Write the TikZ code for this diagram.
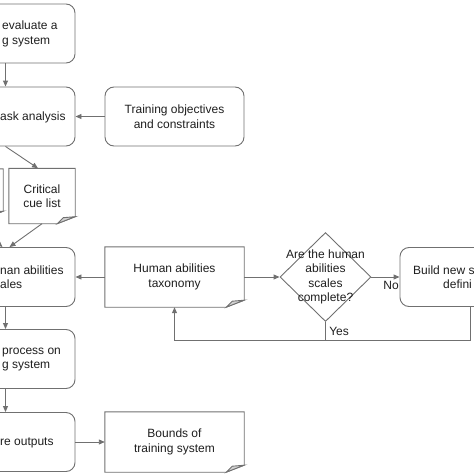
\documentclass[tikz,border=0pt]{standalone}
\usepackage{fontspec}
\setmainfont{Liberation Sans}
\usetikzlibrary{arrows.meta,shapes.geometric}
\definecolor{edgegray}{HTML}{707070}
\definecolor{ink}{HTML}{1E1E1E}
\definecolor{foldgray}{HTML}{D2D2D2}
\newcommand{\docframe}[1]{%
  \draw [edge] (#1.north west) -- (#1.north east) -- ([yshift=7pt]#1.south east)
    -- ([xshift=-18pt]#1.south east) -- (#1.south west) -- cycle;
  \draw [edge, fill=foldgray] ([yshift=7pt]#1.south east) -- ([xshift=-12pt,yshift=6pt]#1.south east)
    -- ([xshift=-18pt]#1.south east) -- cycle;}

\begin{document}
\begin{tikzpicture}[x=1pt, y=-1pt,
    every node/.style={font=\fontsize{12}{14.5}\selectfont, text=ink},
    edge/.style={draw=edgegray, line width=0.9pt},
    >={Triangle[length=6pt,width=5pt]},
    roundbox/.style={edge, rounded corners=9pt, minimum width=139pt, minimum height=59pt, align=center},
    docbox/.style={minimum width=139pt, minimum height=60pt, align=center},
    frag/.style={anchor=west, inner sep=0pt, align=left}]
  \useasboundingbox (0,0) rectangle (474,474);
  % left column
  \node [roundbox] (need) at (5.5,33.5) {};
  \node [frag] (needtxt) at (2,34) {evaluate a\\g system};
  \node [roundbox] (task) at (5.5,116.5) {};
  \node [frag] (tasktxt) at (0,117) {ask analysis};
  \node [docbox, minimum width=66pt, minimum height=55pt] (cues) at (42,196) {Critical\\cue list};
  \node [docbox, minimum width=66pt, minimum height=49pt] (leftdoc) at (-30,193.5) {};
  \node [roundbox] (scales) at (5.5,277) {};
  \node [frag] (scalestxt) at (0,277) {nan abilities\\ales};
  \node [roundbox] (process) at (5.5,359) {};
  \node [frag] (processtxt) at (2,359.5) {process on\\g system};
  \node [roundbox] (outputs) at (5.5,442) {};
  \node [frag] (outputstxt) at (0,442.5) {re outputs};
  % right side
  \node [roundbox] (train) at (174.5,116.5) {Training objectives\\and constraints};
  \node [docbox] (taxon) at (174.5,277) {Human abilities\\taxonomy};
  \node [docbox] (bounds) at (174.5,442) {Bounds of\\training system};
  \node [diamond, edge, minimum width=91pt, minimum height=89pt, inner sep=0pt] (q) at (325.5,277) {};
  \node [align=center] (qtxt) at (q) {Are the human\\abilities\\scales\\complete?};
  \node [roundbox, minimum width=140pt] (build) at (470,277) {};
  \node [frag] (buildtxt) at (413,277) {Build new s\\\hspace*{30pt}defini};
  \docframe{cues}
  \docframe{leftdoc}
  \docframe{taxon}
  \docframe{bounds}
  % connectors
  \draw [edge, ->] (need.south) -- (task.north);
  \draw [edge, ->] (train) -- (task);
  \draw [edge, ->] (task.south) -- ([xshift=-4pt]cues.north);
  \draw [edge, ->] (cues.south) -- ([xshift=4pt]scales.north);
  \draw [edge, ->] (leftdoc.south) -- ([xshift=-3pt]scales.north);
  \draw [edge, ->] (taxon) -- (scales);
  \draw [edge, ->] (taxon) -- (q);
  \draw [edge, ->] (q) -- (build) node [pos = 0.7, below] {No};
  \draw [edge, ->] (build.south) -- ++(0,33) coordinate (turn) -| (taxon.south);
  \draw [edge] (q.south) -- (q.south |- turn) node [pos = 0.55, right] {Yes};
  \draw [edge, ->] (scales) -- (process);
  \draw [edge, ->] (process) -- (outputs);
  \draw [edge, ->] (outputs) -- (bounds);
\end{tikzpicture}
\end{document}
